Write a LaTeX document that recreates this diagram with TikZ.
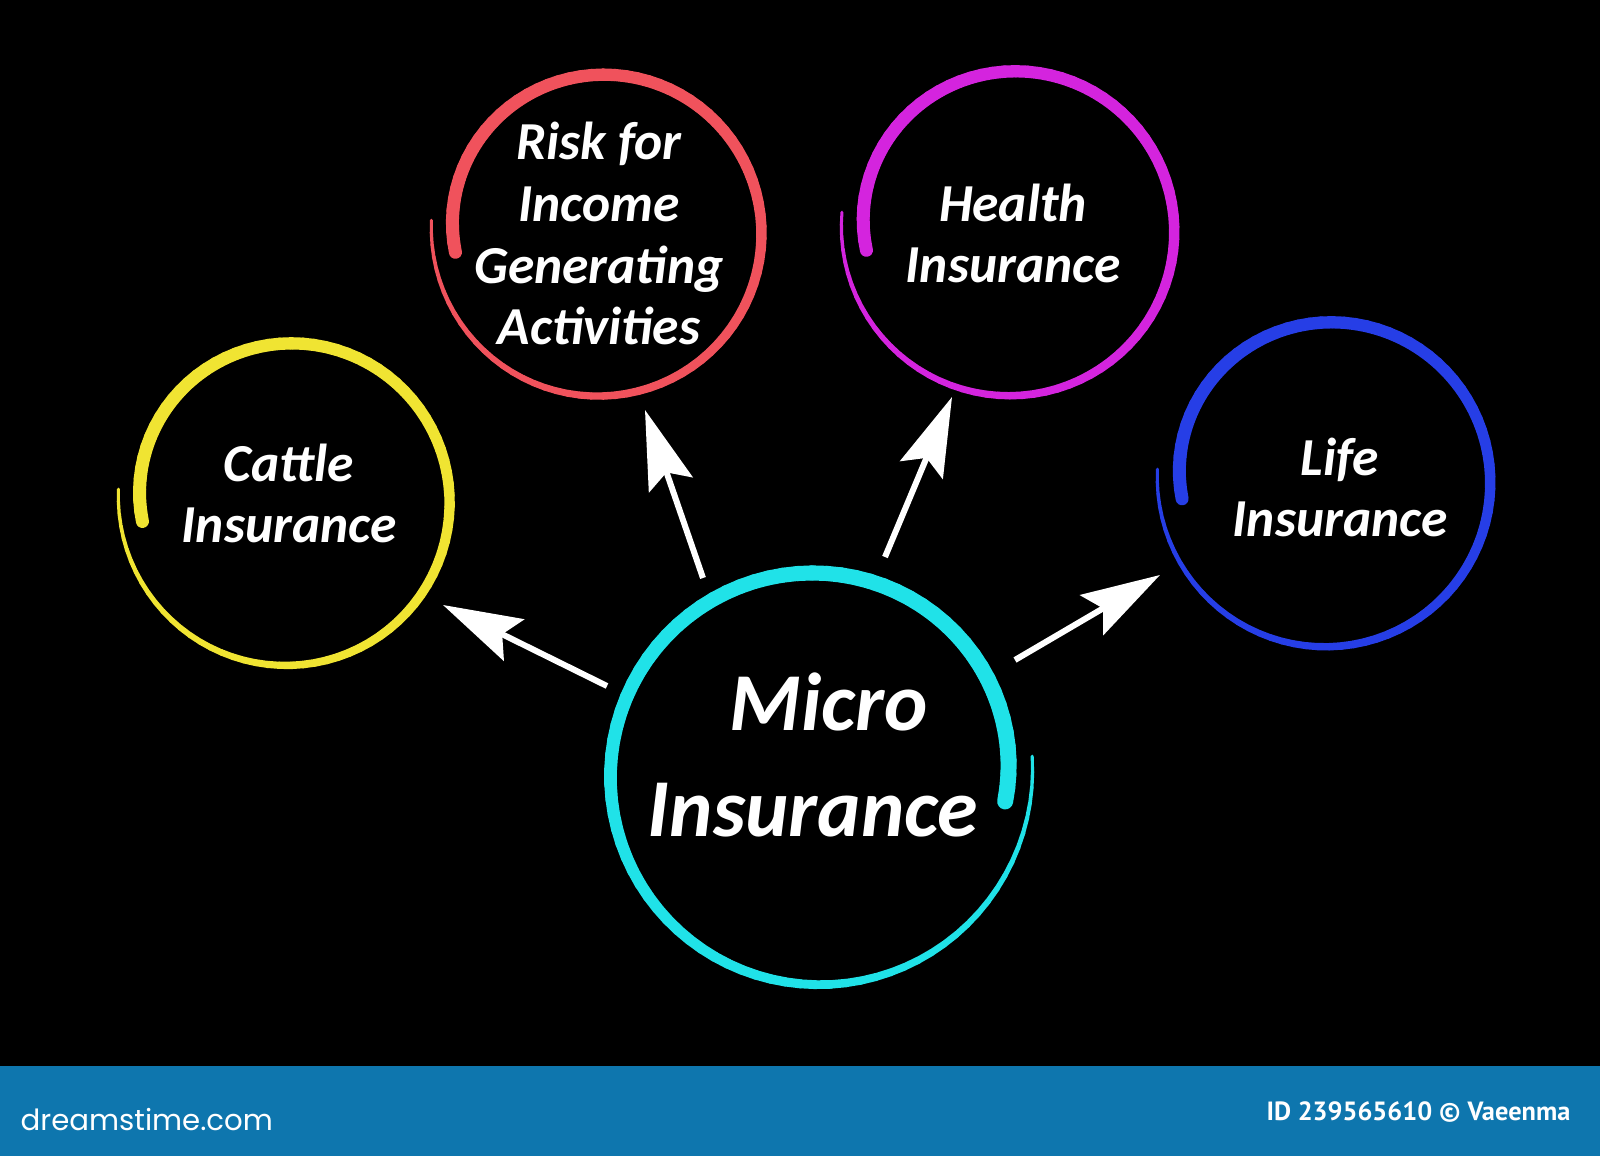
\documentclass[tikz,border=0pt]{standalone}
\usepackage{fontspec}
\setmainfont{Carlito}
\newfontfamily\logofont{Poppins}
\newfontfamily\idfont{PT Sans}
\usetikzlibrary{arrows.meta}
\definecolor{cattlecol}{RGB}{240,228,50}
\definecolor{riskcol}{RGB}{240,82,92}
\definecolor{healthcol}{RGB}{212,36,222}
\definecolor{lifecol}{RGB}{38,62,230}
\definecolor{microcol}{RGB}{32,226,232}
\definecolor{barcol}{RGB}{14,118,174}
% #1 cx, #2 cy, #3 mid radius, #4 start radius, #5 end radius, #6 start angle, #7 end angle, #8 start width, #9 colour
\newcommand\brushring[9]{%
  \foreach \k in {0,...,89}{%
    \pgfmathsetmacro\ta{\k/90}%
    \pgfmathsetmacro\tb{(\k+1)/90}%
    \pgfmathsetmacro\aa{#6+(#7-#6)*\ta}%
    \pgfmathsetmacro\ab{#6+(#7-#6)*\tb}%
    \pgfmathsetmacro\ua{1-\ta}%
    \pgfmathsetmacro\ub{1-\tb}%
    \pgfmathsetmacro\ra{#3+(#4-#3)*\ua*\ua*\ua*\ua+(#5-#3)*\ta*\ta*\ta*\ta}%
    \pgfmathsetmacro\rb{#3+(#4-#3)*\ub*\ub*\ub*\ub+(#5-#3)*\tb*\tb*\tb*\tb}%
    \pgfmathsetmacro\ww{#8-(#8-2.8)*\ta*\ta}%
    \draw[draw=#9, line width=\ww*0.1mm, line cap=round]
      ({#1+\ra*cos(\aa)},{#2+\ra*sin(\aa)}) -- ({#1+\rb*cos(\ab)},{#2+\rb*sin(\ab)});
  }%
}
\tikzset{
  smalltext/.style={text=white, font=\fontsize{15.2pt}{17.6pt}\selectfont\bfseries\itshape, align=center, anchor=base, inner sep=0pt},
  bigtext/.style={text=white, font=\fontsize{23.4pt}{30.4pt}\selectfont\bfseries\itshape, align=center, anchor=base, inner sep=0pt},
  pointer/.style={draw=white, line width=0.6mm, -{Stealth[length=7.9mm, width=4.6mm, inset=1.3mm, fill=white]}}
}
\begin{document}
\begin{tikzpicture}[x=0.1mm, y=0.1mm]
  \fill[black] (0,0) rectangle (1600,1156);
  \useasboundingbox (0,0) rectangle (1600,1156);
  % bottom bar
  \fill[barcol] (0,0) rectangle (1600,90);
  \node[text=white, font=\logofont\fontsize{8.3pt}{10pt}\selectfont, anchor=base west, inner sep=0pt] (logo) at (20,26) {dreamstime.com};
  \node[text=white, font=\idfont\fontsize{7.5pt}{9pt}\selectfont\bfseries, anchor=base east, inner sep=0pt] (imgid) at (1571,36) {ID 239565610 © Vaeenma};

  % rings
  \brushring{288}{655}{162}{147}{170}{188}{-184}{13}{cattlecol}
  \brushring{600}{924}{162}{146}{169}{188}{-184}{13}{riskcol}
  \brushring{1011}{926}{164}{146}{170}{188}{-186}{13}{healthcol}
  \brushring{1327}{675}{164}{146}{170}{187}{-184}{13}{lifecol}
  \brushring{817}{381}{207}{190}{216}{-8}{365}{16}{microcol}

  % texts (anchor at baseline of last line)
  \node[smalltext] (cattle) at (289,613) {Cattle\\Insurance};
  \node[smalltext] (risk) at (599,811) {Risk for\\Income\\Generating\\Activities};
  \node[smalltext] (health) at (1013,873) {Health\\Insurance};
  \node[smalltext] (life) at (1340,619) {Life\\Insurance};
  \node[bigtext] (micro) at (813,319) {\hspace*{9pt}Micro\\Insurance};

  % arrows
  \coordinate (cS) at (607,470);  \coordinate (cE) at (443,551);
  \coordinate (rS) at (703,578);  \coordinate (rE) at (645,746);
  \coordinate (hS) at (885,599);  \coordinate (hE) at (952,759);
  \coordinate (lS) at (1015,496); \coordinate (lE) at (1160,581);
  \draw[pointer] (cS) -- (cE);
  \draw[pointer] (rS) -- (rE);
  \draw[pointer] (hS) -- (hE);
  \draw[pointer] (lS) -- (lE);
\end{tikzpicture}
\end{document}
